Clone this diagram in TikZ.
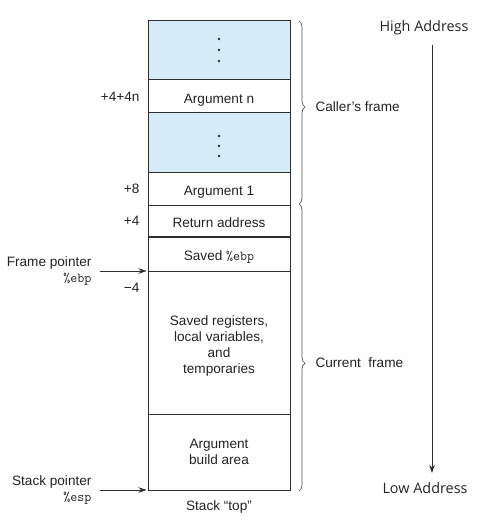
\documentclass[tikz,border=0pt]{standalone}
\usepackage{fontspec}
\setmainfont{Liberation Sans}
\newfontfamily\addrfont{Open Sans}
\usetikzlibrary{decorations.pathreplacing,arrows.meta}
\definecolor{bl}{RGB}{213,235,248}
\definecolor{ln}{RGB}{45,45,45}
\definecolor{txt}{RGB}{35,35,35}
\newcommand{\lblfont}{\fontsize{13.6}{16}\selectfont}
\newcommand{\adfont}{\addrfont\fontsize{14.4}{16}\selectfont}
\tikzset{
  cell/.style={draw=ln, line width=1pt, minimum width=142pt, inner sep=0pt, outer sep=0pt, anchor=north west, align=center},
  onecell/.style={cell, text height=13pt, text depth=0pt},
  bluecell/.style={fill=bl},
  arr/.style={draw=ln, line width=0.8pt, -{Stealth[length=8pt,width=5.5pt]}},
  bracestyle/.style={draw=ln!85, line width=0.65pt, decorate},
  dotmark/.style={fill=ln}
}
\begin{document}
\begin{tikzpicture}[x=1pt,y=-1pt, every node/.style={text=txt, font=\lblfont}]
\useasboundingbox (0,0) rectangle (492,524);
% stack cells
\node[cell, bluecell, minimum height=59pt] (c1) at (148,21) {};
\node[onecell, minimum height=33pt] (argn) at (148,80) {Argument n};
\node[cell, bluecell, minimum height=59pt] (c2) at (148,113) {};
\node[onecell, minimum height=33pt] (arg1) at (148,172) {Argument 1};
\node[onecell, minimum height=32pt] (ret) at (148,205) {Return address};
\node[onecell, minimum height=34pt] (ebp) at (148,237) {Saved \texttt{\%ebp}};
\node[cell, minimum height=143pt] (loc) at (148,271) {};
\node[align=center, yshift=-3pt] (loctext) at (loc.center) {Saved registers,\\local variables,\\and\\temporaries};
\node[cell, minimum height=76pt] (build) at (148,414) {};
\node[align=center, yshift=0pt] (buildtext) at (build.center) {Argument\\build area};
\draw[ln, line width=1.7pt] (ret.south west) -- (ret.south east);
% dots
\foreach \y in {39,50,61} \fill[dotmark] (219,\y) circle (1.3pt);
\foreach \y in {136,146,156} \fill[dotmark] (219,\y) circle (1.3pt);
% offsets
\node[anchor=east] (o1) at (143,97) {+4+4n};
\node[anchor=east] (o2) at (143,189) {+8};
\node[anchor=east] (o3) at (143,221) {+4};
\node[anchor=east] (o4) at (143,288) {−4};
% pointers
\node[anchor=east, align=right] (fp) at (95,271) {Frame pointer\\\texttt{\%ebp}};
\node[anchor=east, align=right] (sp) at (95,490) {Stack pointer\\\texttt{\%esp}};
\coordinate (fpa) at (100,271);
\coordinate (spa) at (100,490);
\draw[arr, shorten >=1.5pt] (fpa) -- (ebp.south west);
\draw[arr, shorten >=1.5pt] (spa) -- (build.south west);
\node (top) at (219,507) {Stack “top”};
% braces
\coordinate (b1) at (299,21);
\coordinate (b2) at (299,204);
\coordinate (b3) at (299,491);
\draw[bracestyle, decoration={brace, amplitude=6pt, aspect=0.47}] (b1) -- (b2);
\draw[bracestyle, decoration={brace, amplitude=6pt, aspect=0.555}] (b2) -- (b3);
\node[anchor=west] (caller) at (312,107) {Caller’s frame};
\node[anchor=west] (cur) at (312,363) {Current~ frame};
% address arrow
\node[font=\adfont] (hi) at (424,28) {High Address};
\node[font=\adfont] (lo) at (425,488) {Low Address};
\coordinate (ha1) at (432,45);
\coordinate (ha2) at (432,473);
\draw[arr] (ha1) -- (ha2);
\end{tikzpicture}
\end{document}
